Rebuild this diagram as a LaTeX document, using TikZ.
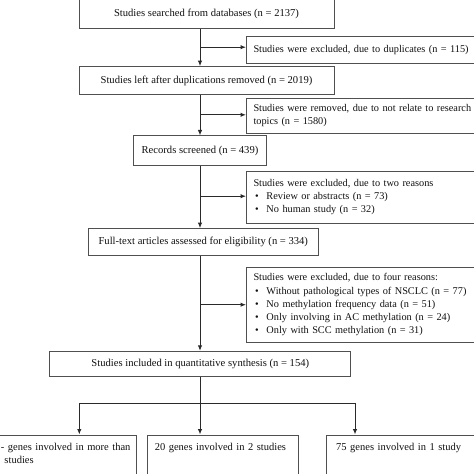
\documentclass[tikz,border=0pt]{standalone}
\usepackage{fontspec}
\setmainfont{Liberation Serif}
\usetikzlibrary{arrows.meta}
\definecolor{linec}{HTML}{2A2A2A}
\definecolor{boxc}{HTML}{505050}
\definecolor{txtc}{HTML}{111111}
\begin{document}
\begin{tikzpicture}[x=1pt,y=-1pt,
  box/.style={draw=boxc, line width=1pt, inner sep=0pt, text=txtc,
    font=\fontsize{10.6}{13.2}\selectfont},
  excl/.style={box, anchor=north west, minimum width=262pt, text width=248pt,
    align=left, inner xsep=7pt, font=\fontsize{10.3}{13.2}\selectfont},
  gene/.style={box, anchor=north west, align=left, inner xsep=0pt,
    text height=9pt, text depth=60pt, inner ysep=6.5pt,
    font=\fontsize{10.5}{13.4}\selectfont},
  arr/.style={draw=linec, line width=1pt, -{Latex[length=5.5pt,width=4.5pt]}},
  ln/.style={draw=linec, line width=1pt}]
\useasboundingbox (0,0) rectangle (474,474);
\fill[white] (0,0) rectangle (474,474);
\clip (0,0) rectangle (474,474);

% main boxes
\node[box, minimum width=255pt, minimum height=29pt] (b1) at (206.5,13.8) {Studies searched from databases (n = 2137)};
\node[box, minimum width=255pt, minimum height=28.3pt] (b2) at (206.5,80.8) {Studies left after duplications removed (n = 2019)};
\node[box, minimum width=133.4pt, minimum height=29.7pt] (b3) at (200,150.8) {Records screened (n = 439)};
\node[box, minimum width=230pt, minimum height=27.3pt] (b4) at (203.3,242.3) {Full-text articles assessed for eligibility (n = 334)};
\node[box, minimum width=300.7pt, minimum height=24.7pt] (b5) at (200.3,363.7) {Studies included in quantitative synthesis (n = 154)};

% exclusion boxes
\node[excl, minimum height=27.6pt] (e1) at (246,35.7) {Studies were excluded, due to duplicates (n = 115)};
\node[excl, minimum height=35pt] (e2) at (246,97.7) {Studies were removed, due to not relate to research\\topics (n = 1580)};
\node[excl, minimum height=52pt] (e3) at (246,170.7) {Studies were excluded, due to two reasons\\
\makebox[13pt][l]{\,•}Review or abstracts (n = 73)\\
\makebox[13pt][l]{\,•}No human study (n = 32)};
\node[excl, minimum height=75pt] (e4) at (246,266.7) {Studies were excluded, due to four reasons:\\
\makebox[13pt][l]{\,•}Without pathological types of NSCLC (n = 77)\\
\makebox[13pt][l]{\,•}No methylation frequency data (n = 51)\\
\makebox[13pt][l]{\,•}Only involving in AC methylation (n = 24)\\
\makebox[13pt][l]{\,•}Only with SCC methylation (n = 31)};

% gene boxes
\node[gene, text width=235.7pt] (g1) at (-100,434.5) {\hspace*{100.5pt}- genes involved in more than\\\hspace*{104pt}studies};
\node[gene, text width=137pt, inner xsep=7pt] (g2) at (147.3,434.5) {20 genes involved in 2 studies};
\node[gene, text width=150pt, inner xsep=10pt] (g3) at (325.7,434.5) {75 genes involved in 1 study};

% main flow
\draw[arr] (b1.south -| b3.north) -- (b2.north -| b3.north);
\draw[arr] (b2.south -| b3.north) -- (b3.north);
\draw[arr] (b3.south) -- (b4.north -| b3.north);
\draw[arr] (b4.south -| b3.north) -- (b5.north -| b3.north);

% exclusions
\draw[arr] (e1.west -| b3.north) ++(0,-2.8) coordinate (x1) -- (x1 -| e1.west);
\draw[arr] (e2.west -| b3.north) ++(0,-0.9) coordinate (x2) -- (x2 -| e2.west);
\draw[arr] (e3.west -| b3.north) ++(0,-1) coordinate (x3) -- (x3 -| e3.west);
\draw[arr] (e4.west -| b3.north) -- (e4.west);

% branches
\coordinate (jl) at (79.3,403.3);
\coordinate (jr) at (355,403.3);
\draw[arr] (b5.south -| b3.north) -- (g2.north -| b3.north);
\draw[ln] (jl) -- (jr);
\draw[arr] (jl) -- (g1.north -| jl);
\draw[arr] (jr) -- (g3.north -| jr);
\end{tikzpicture}
\end{document}
